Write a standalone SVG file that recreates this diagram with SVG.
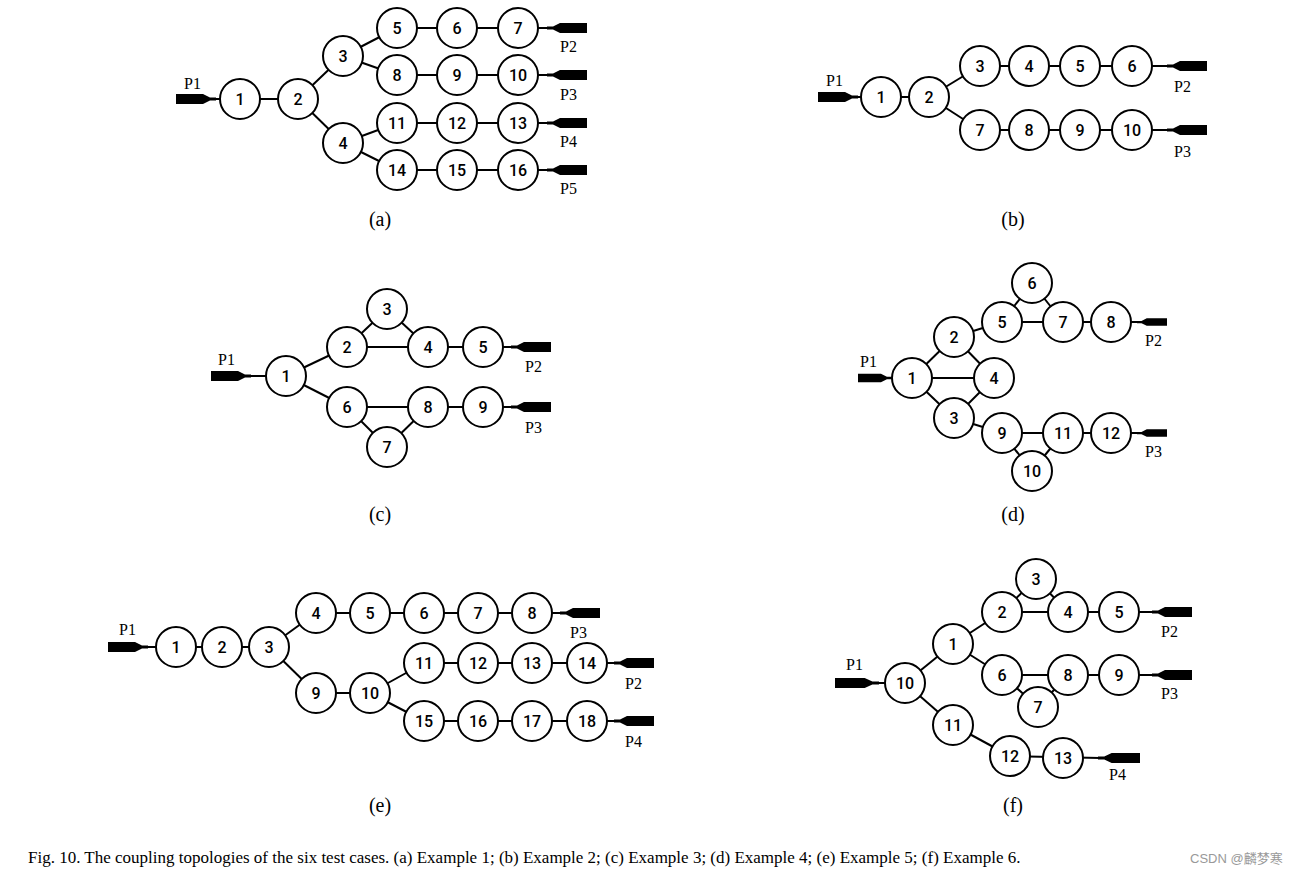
<svg xmlns="http://www.w3.org/2000/svg" xmlns:xlink="http://www.w3.org/1999/xlink" width="1306" height="877" viewBox="0 0 1306 877">
<style>
.n circle{fill:#fff;stroke:#000;stroke-width:2}
.n text{font-family:"Roboto","DejaVu Sans Condensed",sans-serif;font-size:16px;font-weight:500;text-anchor:middle;dominant-baseline:central}
.e line{stroke:#000;stroke-width:2}
.p{font-family:"Liberation Serif",serif;font-size:16px}
.c{font-family:"Liberation Serif",serif;font-size:20px;text-anchor:middle}
</style>
<defs><path id="port" d="M0,-5H27L34,-1.5H40V1.5H34L27,5H0Z" fill="#000"/></defs>
<rect width="1306" height="877" fill="#fff"/>
<g class="e">
<!-- a -->
<line x1="205" y1="99" x2="298" y2="99"/><line x1="298" y1="99" x2="343" y2="56"/><line x1="298" y1="99" x2="343" y2="143"/>
<line x1="343" y1="56" x2="397" y2="28"/><line x1="343" y1="56" x2="397" y2="75"/><line x1="343" y1="143" x2="397" y2="123"/><line x1="343" y1="143" x2="397" y2="170"/>
<line x1="397" y1="28" x2="555" y2="28"/><line x1="397" y1="75" x2="555" y2="75"/><line x1="397" y1="123" x2="555" y2="123"/><line x1="397" y1="170" x2="555" y2="170"/>
<!-- b -->
<line x1="850" y1="97" x2="929" y2="97"/><line x1="929" y1="97" x2="980" y2="66"/><line x1="929" y1="97" x2="980" y2="130"/>
<line x1="980" y1="66" x2="1170" y2="66"/><line x1="980" y1="130" x2="1170" y2="130"/>
<!-- c -->
<line x1="240" y1="376" x2="286" y2="376"/><line x1="286" y1="376" x2="347" y2="347"/><line x1="286" y1="376" x2="347" y2="407"/>
<line x1="347" y1="347" x2="387" y2="309"/><line x1="387" y1="309" x2="428" y2="347"/><line x1="347" y1="347" x2="515" y2="347"/>
<line x1="347" y1="407" x2="515" y2="407"/><line x1="347" y1="407" x2="387" y2="447"/><line x1="387" y1="447" x2="428" y2="407"/>
<!-- d -->
<line x1="885" y1="378" x2="994" y2="378"/><line x1="912" y1="378" x2="954" y2="337"/><line x1="912" y1="378" x2="954" y2="418"/>
<line x1="954" y1="337" x2="994" y2="378"/><line x1="954" y1="418" x2="994" y2="378"/>
<line x1="954" y1="337" x2="1002" y2="322"/><line x1="954" y1="418" x2="1002" y2="433"/>
<line x1="1002" y1="322" x2="1032" y2="283"/><line x1="1032" y1="283" x2="1063" y2="322"/><line x1="1002" y1="322" x2="1140" y2="322"/>
<line x1="1002" y1="433" x2="1032" y2="471"/><line x1="1032" y1="471" x2="1063" y2="433"/><line x1="1002" y1="433" x2="1140" y2="433"/>
<!-- e -->
<line x1="145" y1="647" x2="269" y2="647"/><line x1="269" y1="647" x2="316" y2="613"/><line x1="269" y1="647" x2="316" y2="693"/>
<line x1="316" y1="613" x2="565" y2="613"/><line x1="316" y1="693" x2="370" y2="693"/>
<line x1="370" y1="693" x2="424" y2="663"/><line x1="370" y1="693" x2="424" y2="721"/>
<line x1="424" y1="663" x2="620" y2="663"/><line x1="424" y1="721" x2="620" y2="721"/>
<!-- f -->
<line x1="878" y1="683" x2="905" y2="683"/><line x1="905" y1="683" x2="953" y2="644"/><line x1="905" y1="683" x2="953" y2="725"/>
<line x1="953" y1="644" x2="1002" y2="612"/><line x1="953" y1="644" x2="1002" y2="675"/>
<line x1="1002" y1="612" x2="1036" y2="579"/><line x1="1036" y1="579" x2="1068" y2="612"/><line x1="1002" y1="612" x2="1155" y2="612"/>
<line x1="1002" y1="675" x2="1155" y2="675"/><line x1="1002" y1="675" x2="1038" y2="707"/><line x1="1038" y1="707" x2="1068" y2="675"/>
<line x1="953" y1="725" x2="1010" y2="756"/><line x1="1010" y1="756" x2="1100" y2="758"/>
</g>
<g id="ports">
<use xlink:href="#port" transform="translate(176,99)"/>
<use xlink:href="#port" transform="translate(587,28) scale(-1,1)"/><use xlink:href="#port" transform="translate(587,75) scale(-1,1)"/>
<use xlink:href="#port" transform="translate(587,123) scale(-1,1)"/><use xlink:href="#port" transform="translate(587,170) scale(-1,1)"/>
<use xlink:href="#port" transform="translate(818,97)"/>
<use xlink:href="#port" transform="translate(1207,66) scale(-1,1)"/><use xlink:href="#port" transform="translate(1207,130) scale(-1,1)"/>
<use xlink:href="#port" transform="translate(211,376)"/>
<use xlink:href="#port" transform="translate(551,347) scale(-1,1)"/><use xlink:href="#port" transform="translate(551,407) scale(-1,1)"/>
<use xlink:href="#port" transform="translate(858,378) scale(0.85,0.85)"/>
<use xlink:href="#port" transform="translate(1167,322) scale(-0.75,0.75)"/><use xlink:href="#port" transform="translate(1167,433) scale(-0.75,0.75)"/>
<use xlink:href="#port" transform="translate(108,647)"/>
<use xlink:href="#port" transform="translate(600,613) scale(-1,1)"/><use xlink:href="#port" transform="translate(654,663) scale(-1,1)"/><use xlink:href="#port" transform="translate(654,721) scale(-1,1)"/>
<use xlink:href="#port" transform="translate(835,683) scale(1.1,1)"/>
<use xlink:href="#port" transform="translate(1192,612) scale(-1,1)"/><use xlink:href="#port" transform="translate(1192,675) scale(-1,1)"/><use xlink:href="#port" transform="translate(1140,758) scale(-1.05,1)"/>
<text class="p" x="184" y="89">P1</text><text class="p" x="560" y="52">P2</text><text class="p" x="560" y="100">P3</text><text class="p" x="560" y="147">P4</text><text class="p" x="560" y="194">P5</text>
<text class="p" x="826" y="86">P1</text><text class="p" x="1174" y="92">P2</text><text class="p" x="1174" y="157">P3</text>
<text class="p" x="218" y="365">P1</text><text class="p" x="525" y="372">P2</text><text class="p" x="525" y="433">P3</text>
<text class="p" x="860" y="367">P1</text><text class="p" x="1145" y="346">P2</text><text class="p" x="1145" y="457">P3</text>
<text class="p" x="119" y="635">P1</text><text class="p" x="570" y="638">P3</text><text class="p" x="625" y="689">P2</text><text class="p" x="625" y="747">P4</text>
<text class="p" x="846" y="670">P1</text><text class="p" x="1161" y="637">P2</text><text class="p" x="1161" y="699">P3</text><text class="p" x="1109" y="780">P4</text>
</g>
<g id="a" class="n">
<g id="a1"><circle cx="240" cy="99" r="20"/><text x="240" y="99">1</text></g>
<g id="a2"><circle cx="298" cy="99" r="20"/><text x="298" y="99">2</text></g>
<g id="a3"><circle cx="343" cy="56" r="20"/><text x="343" y="56">3</text></g>
<g id="a4"><circle cx="343" cy="143" r="20"/><text x="343" y="143">4</text></g>
<g id="a5"><circle cx="397" cy="28" r="20"/><text x="397" y="28">5</text></g>
<g id="a6"><circle cx="457" cy="28" r="20"/><text x="457" y="28">6</text></g>
<g id="a7"><circle cx="518" cy="28" r="20"/><text x="518" y="28">7</text></g>
<g id="a8"><circle cx="397" cy="75" r="20"/><text x="397" y="75">8</text></g>
<g id="a9"><circle cx="457" cy="75" r="20"/><text x="457" y="75">9</text></g>
<g id="a10"><circle cx="518" cy="75" r="20"/><text x="518" y="75">10</text></g>
<g id="a11"><circle cx="397" cy="123" r="20"/><text x="397" y="123">11</text></g>
<g id="a12"><circle cx="457" cy="123" r="20"/><text x="457" y="123">12</text></g>
<g id="a13"><circle cx="518" cy="123" r="20"/><text x="518" y="123">13</text></g>
<g id="a14"><circle cx="397" cy="170" r="20"/><text x="397" y="170">14</text></g>
<g id="a15"><circle cx="457" cy="170" r="20"/><text x="457" y="170">15</text></g>
<g id="a16"><circle cx="518" cy="170" r="20"/><text x="518" y="170">16</text></g>
</g>
<g id="b" class="n">
<g id="b1"><circle cx="881" cy="97" r="20"/><text x="881" y="97">1</text></g>
<g id="b2"><circle cx="929" cy="97" r="20"/><text x="929" y="97">2</text></g>
<g id="b3"><circle cx="980" cy="66" r="20"/><text x="980" y="66">3</text></g>
<g id="b4"><circle cx="1029" cy="66" r="20"/><text x="1029" y="66">4</text></g>
<g id="b5"><circle cx="1080" cy="66" r="20"/><text x="1080" y="66">5</text></g>
<g id="b6"><circle cx="1132" cy="66" r="20"/><text x="1132" y="66">6</text></g>
<g id="b7"><circle cx="980" cy="130" r="20"/><text x="980" y="130">7</text></g>
<g id="b8"><circle cx="1029" cy="130" r="20"/><text x="1029" y="130">8</text></g>
<g id="b9"><circle cx="1080" cy="130" r="20"/><text x="1080" y="130">9</text></g>
<g id="b10"><circle cx="1132" cy="130" r="20"/><text x="1132" y="130">10</text></g>
</g>
<g id="c" class="n">
<g id="c1"><circle cx="286" cy="376" r="20"/><text x="286" y="376">1</text></g>
<g id="c2"><circle cx="347" cy="347" r="20"/><text x="347" y="347">2</text></g>
<g id="c3"><circle cx="387" cy="309" r="20"/><text x="387" y="309">3</text></g>
<g id="c4"><circle cx="428" cy="347" r="20"/><text x="428" y="347">4</text></g>
<g id="c5"><circle cx="483" cy="347" r="20"/><text x="483" y="347">5</text></g>
<g id="c6"><circle cx="347" cy="407" r="20"/><text x="347" y="407">6</text></g>
<g id="c7"><circle cx="387" cy="447" r="20"/><text x="387" y="447">7</text></g>
<g id="c8"><circle cx="428" cy="407" r="20"/><text x="428" y="407">8</text></g>
<g id="c9"><circle cx="483" cy="407" r="20"/><text x="483" y="407">9</text></g>
</g>
<g id="d" class="n">
<g id="d1"><circle cx="912" cy="378" r="20"/><text x="912" y="378">1</text></g>
<g id="d2"><circle cx="954" cy="337" r="20"/><text x="954" y="337">2</text></g>
<g id="d3"><circle cx="954" cy="418" r="20"/><text x="954" y="418">3</text></g>
<g id="d4"><circle cx="994" cy="378" r="20"/><text x="994" y="378">4</text></g>
<g id="d5"><circle cx="1002" cy="322" r="20"/><text x="1002" y="322">5</text></g>
<g id="d6"><circle cx="1032" cy="283" r="20"/><text x="1032" y="283">6</text></g>
<g id="d7"><circle cx="1063" cy="322" r="20"/><text x="1063" y="322">7</text></g>
<g id="d8"><circle cx="1111" cy="322" r="20"/><text x="1111" y="322">8</text></g>
<g id="d9"><circle cx="1002" cy="433" r="20"/><text x="1002" y="433">9</text></g>
<g id="d10"><circle cx="1032" cy="471" r="20"/><text x="1032" y="471">10</text></g>
<g id="d11"><circle cx="1063" cy="433" r="20"/><text x="1063" y="433">11</text></g>
<g id="d12"><circle cx="1111" cy="433" r="20"/><text x="1111" y="433">12</text></g>
</g>
<g id="e" class="n">
<g id="e1"><circle cx="176" cy="647" r="20"/><text x="176" y="647">1</text></g>
<g id="e2"><circle cx="222" cy="647" r="20"/><text x="222" y="647">2</text></g>
<g id="e3"><circle cx="269" cy="647" r="20"/><text x="269" y="647">3</text></g>
<g id="e4"><circle cx="316" cy="613" r="20"/><text x="316" y="613">4</text></g>
<g id="e5"><circle cx="370" cy="613" r="20"/><text x="370" y="613">5</text></g>
<g id="e6"><circle cx="424" cy="613" r="20"/><text x="424" y="613">6</text></g>
<g id="e7"><circle cx="478" cy="613" r="20"/><text x="478" y="613">7</text></g>
<g id="e8"><circle cx="532" cy="613" r="20"/><text x="532" y="613">8</text></g>
<g id="e9"><circle cx="316" cy="693" r="20"/><text x="316" y="693">9</text></g>
<g id="e10"><circle cx="370" cy="693" r="20"/><text x="370" y="693">10</text></g>
<g id="e11"><circle cx="424" cy="663" r="20"/><text x="424" y="663">11</text></g>
<g id="e12"><circle cx="478" cy="663" r="20"/><text x="478" y="663">12</text></g>
<g id="e13"><circle cx="532" cy="663" r="20"/><text x="532" y="663">13</text></g>
<g id="e14"><circle cx="587" cy="663" r="20"/><text x="587" y="663">14</text></g>
<g id="e15"><circle cx="424" cy="721" r="20"/><text x="424" y="721">15</text></g>
<g id="e16"><circle cx="478" cy="721" r="20"/><text x="478" y="721">16</text></g>
<g id="e17"><circle cx="532" cy="721" r="20"/><text x="532" y="721">17</text></g>
<g id="e18"><circle cx="587" cy="721" r="20"/><text x="587" y="721">18</text></g>
</g>
<g id="f" class="n">
<g id="f10"><circle cx="905" cy="683" r="20"/><text x="905" y="683">10</text></g>
<g id="f1"><circle cx="953" cy="644" r="20"/><text x="953" y="644">1</text></g>
<g id="f2"><circle cx="1002" cy="612" r="20"/><text x="1002" y="612">2</text></g>
<g id="f3"><circle cx="1036" cy="579" r="20"/><text x="1036" y="579">3</text></g>
<g id="f4"><circle cx="1068" cy="612" r="20"/><text x="1068" y="612">4</text></g>
<g id="f5"><circle cx="1119" cy="612" r="20"/><text x="1119" y="612">5</text></g>
<g id="f6"><circle cx="1002" cy="675" r="20"/><text x="1002" y="675">6</text></g>
<g id="f7"><circle cx="1038" cy="707" r="20"/><text x="1038" y="707">7</text></g>
<g id="f8"><circle cx="1068" cy="675" r="20"/><text x="1068" y="675">8</text></g>
<g id="f9"><circle cx="1119" cy="675" r="20"/><text x="1119" y="675">9</text></g>
<g id="f11"><circle cx="953" cy="725" r="20"/><text x="953" y="725">11</text></g>
<g id="f12"><circle cx="1010" cy="756" r="20"/><text x="1010" y="756">12</text></g>
<g id="f13"><circle cx="1063" cy="758" r="20"/><text x="1063" y="758">13</text></g>
</g>
<g id="captions">
<text class="c" x="380" y="226">(a)</text><text class="c" x="1013" y="226">(b)</text>
<text class="c" x="380" y="521">(c)</text><text class="c" x="1013" y="521">(d)</text>
<text class="c" x="380" y="812">(e)</text><text class="c" x="1013" y="812">(f)</text>
<text x="28" y="863" style="font-family:'Liberation Serif',serif;font-size:17px">Fig. 10.  The coupling topologies of the six test cases. (a) Example 1; (b) Example 2; (c) Example 3; (d) Example 4; (e) Example 5; (f) Example 6.</text>
<text x="1190" y="863" style="font-family:'Liberation Sans','Noto Sans CJK SC',sans-serif;font-size:13px;fill:#999">CSDN @麟梦寒</text>
</g>
</svg>
